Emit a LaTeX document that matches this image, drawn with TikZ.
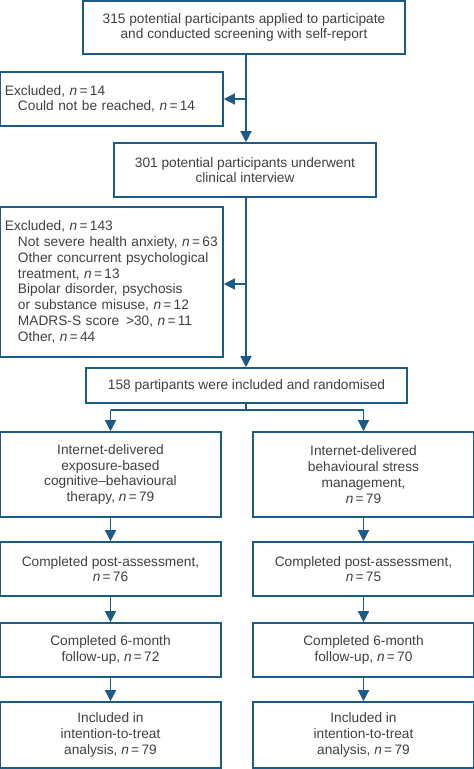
\documentclass[tikz,border=0pt]{standalone}
\usepackage{fontspec}
\setmainfont{Liberation Sans}
\usetikzlibrary{arrows.meta}
\definecolor{boxblue}{HTML}{1D5B87}
\definecolor{txt}{HTML}{404040}
\newcommand{\nn}[1]{\textit{n}\,=\,#1}
\begin{document}
\begin{tikzpicture}[x=1pt,y=-1pt,
  box/.style={draw=boxblue,line width=1.6pt,inner sep=0pt,align=center,text=txt,
    font=\fontsize{13.7}{15.8}\selectfont},
  exbox/.style={box,align=left,inner xsep=5pt},
  arr/.style={draw=boxblue,line width=1.3pt,-{Triangle[width=11pt,length=11pt]}},
  ln/.style={draw=boxblue,line width=1.3pt}]
\useasboundingbox (0,0) rectangle (474,769);
\node[box,minimum width=322pt,minimum height=53pt] (b1) at (244,27.5)
  {315 potential participants applied to participate\\and conducted screening with self-report};
\node[exbox,minimum width=223pt,minimum height=54pt,text width=213pt] (e1) at (111.5,99)
  {Excluded, \nn{14}\\\hspace*{13pt}Could not be reached, \nn{14}};
\node[box,minimum width=262pt,minimum height=54pt] (b2) at (245,170)
  {301 potential participants underwent\\clinical interview};
\node[exbox,minimum width=223pt,minimum height=150pt,text width=213pt] (e2) at (111.5,282)
  {Excluded, \nn{143}\\
   \hspace*{13pt}Not severe health anxiety, \nn{63}\\
   \hspace*{13pt}Other concurrent psychological\\
   \hspace*{13pt}treatment, \nn{13}\\
   \hspace*{13pt}Bipolar disorder, psychosis\\
   \hspace*{13pt}or substance misuse, \nn{12}\\
   \hspace*{13pt}MADRS-S score \,>30, \nn{11}\\
   \hspace*{13pt}Other, \nn{44}};
\node[box,minimum width=321pt,minimum height=35pt] (b3) at (246.5,385.5)
  {158 partipants were included and randomised};
\node[box,minimum width=221pt,minimum height=85pt] (l1) at (110.5,474.5)
  {Internet-delivered\\exposure-based\\cognitive–behavioural\\therapy, \nn{79}};
\node[box,minimum width=221pt,minimum height=85pt] (r1) at (363.5,474.5)
  {Internet-delivered\\behavioural stress\\management,\\\nn{79}};
\node[box,minimum width=221pt,minimum height=54pt] (l2) at (110.5,569)
  {Completed post-assessment,\\\nn{76}};
\node[box,minimum width=221pt,minimum height=54pt] (r2) at (363.5,569)
  {Completed post-assessment,\\\nn{75}};
\node[box,minimum width=221pt,minimum height=54pt] (l3) at (110.5,650)
  {Completed 6-month\\follow-up, \nn{72}};
\node[box,minimum width=221pt,minimum height=54pt] (r3) at (363.5,650)
  {Completed 6-month\\follow-up, \nn{70}};
\node[box,minimum width=221pt,minimum height=66pt] (l4) at (110.5,735)
  {Included in\\intention-to-treat\\analysis, \nn{79}};
\node[box,minimum width=221pt,minimum height=66pt] (r4) at (363.5,735)
  {Included in\\intention-to-treat\\analysis, \nn{79}};
% main trunk
\coordinate (j1) at (246,99);
\coordinate (j2) at (246,284);
\draw[arr] (b1.south -| j1) -- (b2.north -| j1);
\draw[arr] (j1) -- (e1.east |- j1);
\draw[arr] (b2.south -| j2) -- (b3.north -| j2);
\draw[arr] (j2) -- (e2.east |- j2);
% split
\coordinate (s) at (246,410);
\coordinate (sl) at (110.5,410);
\coordinate (sr) at (363.5,410);
\draw[ln] (b3.south -| s) -- (s);
\draw[ln] (sl) -- (sr);
\draw[arr] (sl) -- (l1.north);
\draw[arr] (sr) -- (r1.north);
\draw[arr] (l1.south) -- (l2.north);
\draw[arr] (r1.south) -- (r2.north);
\draw[arr] (l2.south) -- (l3.north);
\draw[arr] (r2.south) -- (r3.north);
\draw[arr] (l3.south) -- (l4.north);
\draw[arr] (r3.south) -- (r4.north);
\end{tikzpicture}
\end{document}
